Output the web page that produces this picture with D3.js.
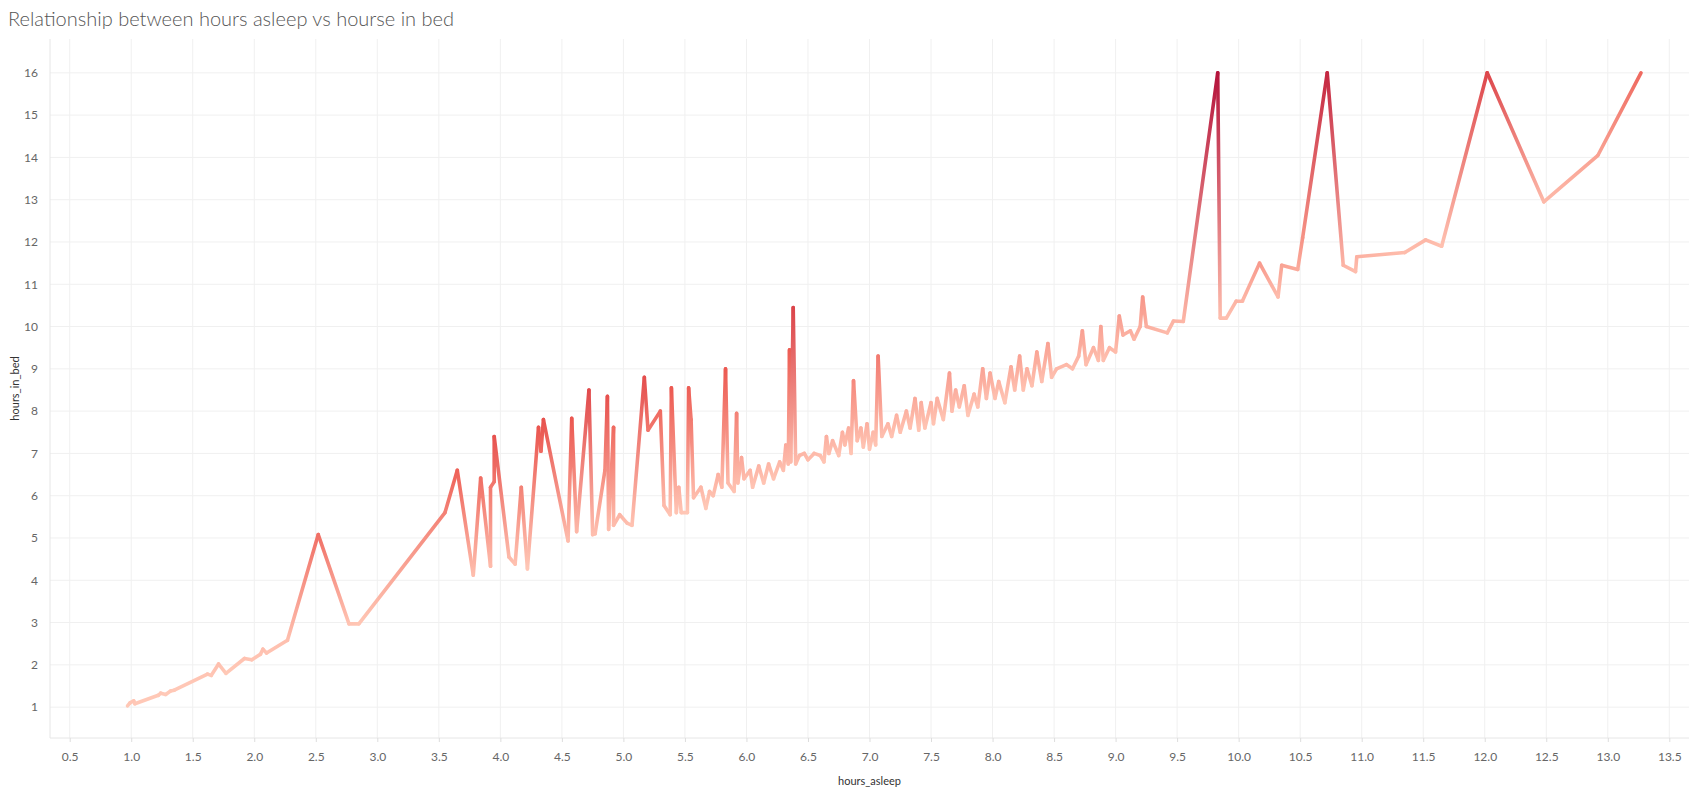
<!DOCTYPE html>
<html><head><meta charset="utf-8">
<script src="https://cdn.jsdelivr.net/npm/d3@7"></script>
<style>body{margin:0;background:#fff;font-family:Lato,"Open Sans",sans-serif}</style>
</head><body><svg id="c" width="1703" height="794"></svg>
<script>
const hoursAsleep=[0.97,0.99,1.02,1.03,1.22,1.24,1.28,1.32,1.35,1.62,1.65,1.71,1.77,1.92,1.98,2.05,2.07,2.1,2.27,2.52,2.77,2.85,3.55,3.65,3.78,3.84,3.92,3.92,3.95,3.95,4.07,4.12,4.17,4.22,4.31,4.33,4.35,4.55,4.58,4.62,4.72,4.75,4.77,4.85,4.87,4.88,4.92,4.92,4.97,5.03,5.07,5.17,5.2,5.3,5.33,5.38,5.39,5.43,5.45,5.47,5.52,5.53,5.55,5.57,5.63,5.67,5.7,5.73,5.77,5.8,5.83,5.85,5.9,5.92,5.93,5.96,5.98,6.03,6.05,6.1,6.14,6.18,6.22,6.27,6.3,6.32,6.34,6.35,6.36,6.38,6.4,6.43,6.47,6.5,6.55,6.6,6.63,6.65,6.67,6.7,6.75,6.78,6.8,6.83,6.85,6.87,6.9,6.93,6.95,6.98,7.0,7.03,7.05,7.07,7.1,7.15,7.18,7.22,7.25,7.3,7.33,7.37,7.4,7.42,7.45,7.5,7.52,7.55,7.6,7.65,7.67,7.7,7.73,7.77,7.8,7.85,7.88,7.92,7.95,7.98,8.02,8.05,8.1,8.15,8.18,8.22,8.25,8.28,8.32,8.36,8.4,8.45,8.48,8.52,8.6,8.65,8.7,8.73,8.76,8.82,8.86,8.88,8.9,8.95,9.0,9.03,9.06,9.12,9.15,9.2,9.22,9.25,9.42,9.47,9.55,9.83,9.85,9.9,9.98,10.03,10.17,10.32,10.35,10.48,10.52,10.72,10.85,10.95,10.96,11.35,11.52,11.65,12.02,12.48,12.92,13.27];
const hoursInBed=[1.03,1.1,1.15,1.08,1.28,1.33,1.3,1.38,1.4,1.78,1.75,2.02,1.8,2.15,2.12,2.25,2.37,2.28,2.58,5.08,2.97,2.97,5.6,6.6,4.12,6.42,4.33,6.2,6.33,7.4,4.55,4.38,6.2,4.27,7.62,7.05,7.8,4.93,7.83,5.15,8.5,5.08,5.1,6.6,8.35,5.2,7.62,5.3,5.55,5.35,5.3,8.8,7.55,8.0,5.77,5.55,8.55,5.6,6.2,5.6,5.6,8.55,7.8,5.95,6.2,5.7,6.1,6.0,6.5,6.2,9.0,6.3,6.1,7.95,6.3,6.9,6.4,6.6,6.2,6.7,6.3,6.75,6.4,6.8,6.6,7.2,6.75,9.45,6.8,10.45,6.75,6.95,7.0,6.85,7.0,6.95,6.8,7.4,7.0,7.3,6.95,7.5,7.2,7.6,7.0,8.72,7.3,7.6,7.15,7.7,7.1,7.5,7.2,9.3,7.4,7.7,7.4,7.9,7.5,8.0,7.6,8.3,7.55,8.2,7.6,8.2,7.7,8.3,7.8,8.9,8.0,8.5,8.1,8.6,7.9,8.4,8.1,9.0,8.3,8.9,8.3,8.7,8.2,9.05,8.5,9.3,8.5,9.0,8.6,9.4,8.7,9.6,8.8,9.0,9.1,9.0,9.3,9.9,9.1,9.5,9.2,10.0,9.2,9.5,9.4,10.25,9.8,9.9,9.7,10.0,10.7,10.0,9.85,10.13,10.12,16.0,10.2,10.2,10.6,10.6,11.5,10.7,11.45,11.35,12.1,16.0,11.45,11.3,11.65,11.75,12.05,11.9,16.0,12.95,14.05,16.0];
const xTicks=d3.range(0.5,13.51,0.5);
const yTicks=d3.range(1,17,1);

const svg=d3.select("#c");
const L=50,R=1689,T=39,B=738;
const x=d3.scaleLinear().domain([0.34,13.66]).range([L,R]);
const y=d3.scaleLinear().domain([0.27,16.8]).range([B,T]);
const color=d3.scaleLinear().domain([0.5,3.2,6.2]).range(["#fdb8a8","#ec5850","#b3123b"]);

svg.append("text").attr("x",8).attr("y",26).attr("font-size",20).attr("fill","#555").attr("font-weight",300).text("Relationship between hours asleep vs hourse in bed");

const g=svg.append("g");
g.selectAll(".gx").data(xTicks).join("line").attr("x1",d=>x(d)).attr("x2",d=>x(d)).attr("y1",T).attr("y2",B).attr("stroke","#f0f0f0");
g.selectAll(".gy").data(yTicks).join("line").attr("y1",d=>y(d)).attr("y2",d=>y(d)).attr("x1",L).attr("x2",R).attr("stroke","#f0f0f0");
g.append("line").attr("x1",L).attr("x2",L).attr("y1",T).attr("y2",B).attr("stroke","#e6e6e6");
g.append("line").attr("x1",L).attr("x2",R).attr("y1",B).attr("y2",B).attr("stroke","#e6e6e6");

const xa=svg.append("g").attr("transform",`translate(0,${B})`).call(d3.axisBottom(x).tickValues(xTicks).tickFormat(d3.format(".1f")).tickSize(4));
const ya=svg.append("g").attr("transform",`translate(${L},0)`).call(d3.axisLeft(y).tickValues(yTicks).tickSize(0).tickPadding(12));
[xa,ya].forEach(a=>{a.select(".domain").remove();a.selectAll("line").attr("stroke","#ddd");a.selectAll("text").attr("fill","#666").attr("font-size",12).attr("font-family","Lato,sans-serif");});
xa.selectAll("text").attr("dy","1.3em");

svg.append("text").attr("x",(L+R)/2).attr("y",785).attr("text-anchor","middle").attr("font-size",11).attr("fill","#333").text("hours_asleep");
svg.append("text").attr("transform",`translate(19,${(T+B)/2}) rotate(-90)`).attr("text-anchor","middle").attr("font-size",11).attr("fill","#333").text("hours_in_bed");

const pts=hoursAsleep.map((a,i)=>({a,b:hoursInBed[i]}));
const defs=svg.append("defs");
const segs=d3.pairs(pts);
segs.forEach(([p,q],i)=>{
  const gr=defs.append("linearGradient").attr("id","g"+i).attr("gradientUnits","userSpaceOnUse")
    .attr("x1",x(p.a)).attr("y1",y(p.b)).attr("x2",x(q.a)).attr("y2",y(q.b)+0.01);
  gr.append("stop").attr("offset",0).attr("stop-color",color(p.b-p.a));
  gr.append("stop").attr("offset",1).attr("stop-color",color(q.b-q.a));
});
svg.append("g").selectAll("line").data(segs).join("line")
  .attr("x1",d=>x(d[0].a)).attr("y1",d=>y(d[0].b)).attr("x2",d=>x(d[1].a)).attr("y2",d=>y(d[1].b))
  .attr("stroke",(d,i)=>`url(#g${i})`).attr("stroke-width",3.6).attr("stroke-linecap","round");
</script></body></html>
